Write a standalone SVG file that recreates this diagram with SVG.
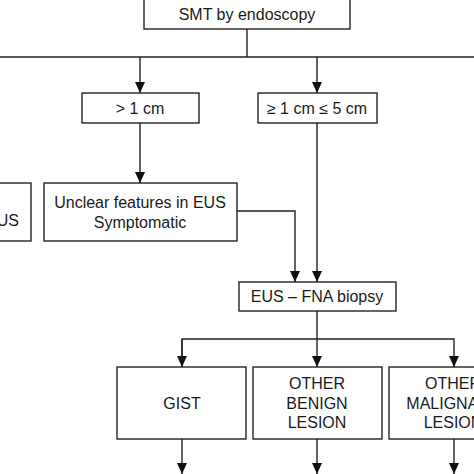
<svg xmlns="http://www.w3.org/2000/svg" width="474" height="474" viewBox="0 0 474 474">
<style>
.box{fill:#fff;stroke:#222;stroke-width:1.4}
.t{font-family:"Liberation Sans",Arial,Helvetica,sans-serif;font-size:16px;fill:#1a1a1a;text-anchor:middle}
.c{fill:none;stroke:#222;stroke-width:1.4}
</style>
<defs>
<marker id="ah" markerUnits="userSpaceOnUse" markerWidth="12" markerHeight="12" viewBox="0 0 12 12" refX="11" refY="6" orient="auto">
<path d="M0,1 L11,6 L0,11 Z" fill="#111"/>
</marker>
</defs>
<rect width="474" height="474" fill="#fff"/>
<g id="connectors">
<path class="c" d="M247,29 V57"/>
<path class="c" d="M0,57 H474"/>
<path class="c" d="M140,57 V93" marker-end="url(#ah)"/>
<path class="c" d="M317,57 V93" marker-end="url(#ah)"/>
<path class="c" d="M140,123 V183" marker-end="url(#ah)"/>
<path class="c" d="M317,123 V282" marker-end="url(#ah)"/>
<path class="c" d="M237,211 H295 V282" marker-end="url(#ah)"/>
<path class="c" d="M317,311 V339"/>
<path class="c" d="M182,367 V339 H454 V367" marker-end="url(#ah)"/>
<path class="c" d="M182,339 V367" marker-end="url(#ah)"/>
<path class="c" d="M317,339 V367" marker-end="url(#ah)"/>
<path class="c" d="M182,439 V474" marker-end="url(#ah)"/>
<path class="c" d="M317,439 V474" marker-end="url(#ah)"/>
<path class="c" d="M454,439 V474" marker-end="url(#ah)"/>
</g>
<g id="smt">
<rect class="box" x="144" y="-10" width="206" height="39"/>
<text class="t" x="247" y="20">SMT by endoscopy</text>
</g>
<g id="gt1cm">
<rect class="box" x="82" y="93" width="117" height="30"/>
<text class="t" x="140" y="114">&gt; 1 cm</text>
</g>
<g id="range">
<rect class="box" x="258" y="93" width="119" height="30"/>
<text class="t" x="317" y="114">≥ 1 cm ≤ 5 cm</text>
</g>
<g id="leftbox">
<rect class="box" x="-10" y="183" width="41" height="58"/>
<text class="t" x="19" y="226" style="text-anchor:end">US</text>
</g>
<g id="unclear">
<rect class="box" x="44" y="183" width="193" height="58"/>
<text class="t" x="140" y="208">Unclear features in EUS</text>
<text class="t" x="140" y="228">Symptomatic</text>
</g>
<g id="fna">
<rect class="box" x="239" y="282" width="157" height="29"/>
<text class="t" x="317" y="302">EUS – FNA biopsy</text>
</g>
<g id="gist">
<rect class="box" x="117" y="367" width="129" height="72"/>
<text class="t" x="182" y="409">GIST</text>
</g>
<g id="benign">
<rect class="box" x="253" y="367" width="129" height="72"/>
<text class="t" x="317" y="389">OTHER</text>
<text class="t" x="317" y="409">BENIGN</text>
<text class="t" x="317" y="428">LESION</text>
</g>
<g id="malignant">
<rect class="box" x="389" y="367" width="129" height="72"/>
<text class="t" x="453" y="389">OTHER</text>
<text class="t" x="453" y="409">MALIGNANT</text>
<text class="t" x="453" y="428">LESION</text>
</g>
</svg>
